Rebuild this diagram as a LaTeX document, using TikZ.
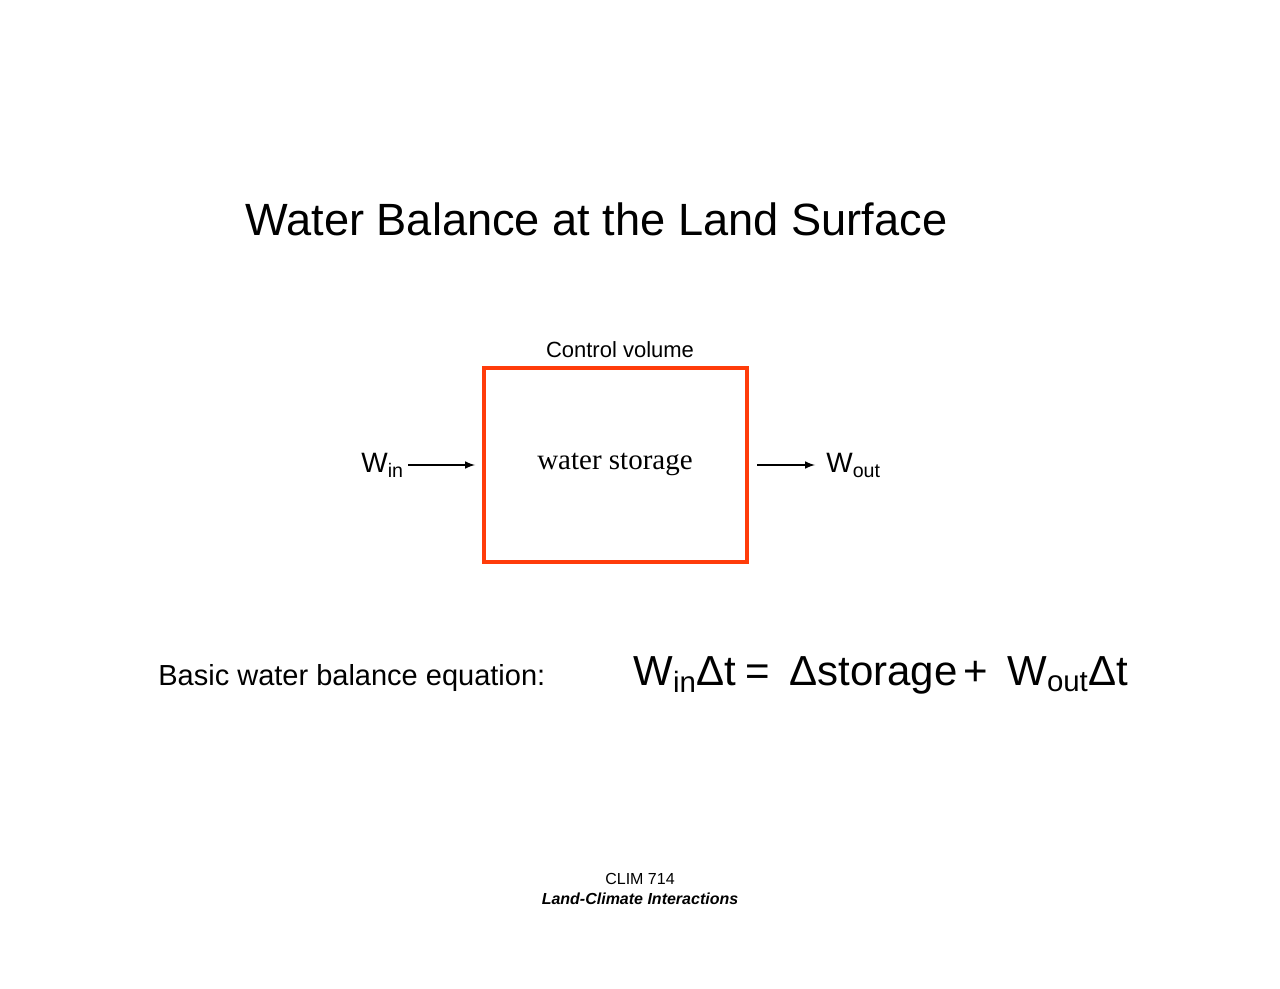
\documentclass[tikz,border=0pt]{standalone}
\usepackage{fontspec}
\setmainfont{Liberation Sans}
\newfontfamily\serifb{Liberation Serif}
\begin{document}
\begin{tikzpicture}[x=0.5pt,y=-0.5pt,
  txt/.style={inner sep=0pt,anchor=base west},
  eq/.style={inner sep=0pt,anchor=base west,font=\fontsize{21}{25}\selectfont},
  arr/.style={-latex,line width=0.7pt},
  boxc/.style={draw=boxred,line width=2pt}]
\definecolor{boxred}{RGB}{255,60,10}
\useasboundingbox (0,0) rectangle (1280,989);
\node[txt] (title) at (245,236) {\fontsize{22.6}{27}\selectfont Water Balance at the Land Surface};
\node[boxc,minimum width=131.5pt,minimum height=97pt,inner sep=0pt] (box) at (615.5,465) {};
\node[inner sep=0pt,anchor=base] (cv) at (620,358) {\fontsize{11}{13}\selectfont Control volume};
\node[inner sep=0pt,anchor=base] (ws) at (615,470) {\serifb\fontsize{14.5}{17}\selectfont water storage};
\node[txt] (win) at (361,473) {\fontsize{14}{17}\selectfont W\textsubscript{in}};
\node[txt] (wout) at (826,473) {\fontsize{14}{17}\selectfont W\textsubscript{out}};
\coordinate (a1) at (408,465); \coordinate (a2) at (475,465);
\coordinate (b1) at (757,465); \coordinate (b2) at (815,465);
\draw[arr] (a1) -- (a2);
\draw[arr] (b1) -- (b2);
\node[txt] (basic) at (158,685) {\fontsize{14.5}{18}\selectfont Basic water balance equation:};
\node[eq] (e1) at (633,685) {W\textsubscript{in}Δt};
\node[eq] (e2) at (745,685) {=};
\node[eq] (e3) at (789,685) {Δstorage};
\node[eq] (e4) at (963,685) {+};
\node[eq] (e5) at (1007,685) {W\textsubscript{out}Δt};
\node[inner sep=0pt,anchor=base] (f1) at (640,884) {\fontsize{8}{9}\selectfont CLIM 714};
\node[inner sep=0pt,anchor=base] (f2) at (640,904) {\fontsize{8}{9}\selectfont\bfseries\itshape Land-Climate Interactions};
\end{tikzpicture}
\end{document}
